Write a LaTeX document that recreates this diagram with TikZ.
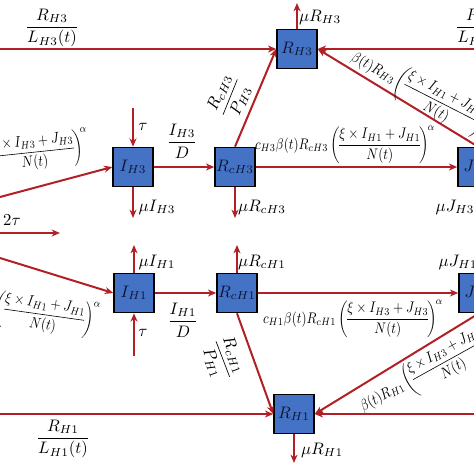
\documentclass[tikz,border=0pt]{standalone}
\usepackage{amsmath}
\usetikzlibrary{arrows.meta}
\definecolor{flowred}{HTML}{B21F24}
\definecolor{boxblue}{HTML}{4472C4}
\definecolor{boxtext}{HTML}{0B1533}
\newcommand{\shr}[1]{\scalebox{0.78}[0.92]{#1}}
\newcommand{\frc}[2]{\left(\!\dfrac{#1}{#2}\!\right)^{\!\alpha}}
\begin{document}
\begin{tikzpicture}[x=0.6pt,y=-0.6pt,
  comp/.style={draw=black, line width=0.9pt, fill=boxblue, text=boxtext,
    minimum width=24pt, minimum height=23.5pt, inner sep=0pt},
  flow/.style={draw=flowred, line width=1.2pt, -{Stealth[length=5pt,width=4.2pt]}},
  lab/.style={inner sep=0pt, text=black}]
\useasboundingbox (0,0) rectangle (474,474);
% compartments
\node[comp] (RH3)  at (297,49)  {$R_{H3}$};
\node[comp] (IH3)  at (133,167) {$I_{H3}$};
\node[comp] (RcH3) at (235,167) {$R_{cH3}$};
\node[comp] (JH3)  at (478,167) {$J_{H3}$};
\node[comp] (IH1)  at (134,293) {$I_{H1}$};
\node[comp] (RcH1) at (237,293) {$R_{cH1}$};
\node[comp] (JH1)  at (479,293) {$J_{H1}$};
\node[comp] (RH1)  at (294,414) {$R_{H1}$};
% free ends
\coordinate (tl) at (0,49);
\coordinate (tr) at (474,49);
\coordinate (muRH3) at (297,3);
\coordinate (tauA) at (133,108);
\coordinate (muIH3) at (133,218);
\coordinate (muRcH3) at (235,218);
\coordinate (muJH3) at (478,218);
\coordinate (ulA) at (0,197);
\coordinate (twA) at (0,233);
\coordinate (twB) at (60,233);
\coordinate (llA) at (0,258);
\coordinate (muIH1) at (134,245);
\coordinate (tauB) at (134,356);
\coordinate (muRcH1) at (237,245);
\coordinate (muJH1) at (479,245);
\coordinate (bl) at (0,414);
\coordinate (br) at (474,414);
\coordinate (muRH1) at (294,463);
% flows, upper half
\draw[flow] (tl) -- (RH3);
\draw[flow] (tr) -- (RH3);
\draw[flow] (RH3) -- (muRH3);
\draw[flow] (tauA) -- (IH3);
\draw[flow] (IH3) -- (muIH3);
\draw[flow] (IH3) -- (RcH3);
\draw[flow] (RcH3) -- (muRcH3);
\draw[flow] (RcH3) -- (JH3);
\draw[flow] (JH3) -- (muJH3);
\draw[flow] (RcH3.north) -- (RH3.west);
\draw[flow] (JH3.north) -- (RH3.east);
\draw[flow] (ulA) -- (IH3.west);
\draw[flow] (twA) -- (twB);
% flows, lower half
\draw[flow] (llA) -- (IH1.west);
\draw[flow] (IH1) -- (muIH1);
\draw[flow] (tauB) -- (IH1);
\draw[flow] (IH1) -- (RcH1);
\draw[flow] (RcH1) -- (muRcH1);
\draw[flow] (RcH1) -- (JH1);
\draw[flow] (JH1) -- (muJH1);
\draw[flow] (RcH1.south) -- (RH1.west);
\draw[flow] (JH1.south) -- (RH1.east);
\draw[flow] (bl) -- (RH1);
\draw[flow] (br) -- (RH1);
\draw[flow] (RH1) -- (muRH1);
% labels, upper half
\node[lab] (lRL3) at (52,28) {$\dfrac{R_{H3}}{L_{H3}(t)}$};
\node[lab, anchor=west] (lRL3r) at (455,28) {$\dfrac{R_{H3}}{L_{H3}(t)}$};
\node[lab] (lmuRH3) at (320,17) {$\mu R_{H3}$};
\node[lab] (ltauA) at (143,127) {$\tau$};
\node[lab] (lmuIH3) at (157,207) {$\mu I_{H3}$};
\node[lab] (lID3) at (182,141) {$\dfrac{I_{H3}}{D}$};
\node[lab] (lmuRcH3) at (262,207) {$\mu R_{cH3}$};
\node[lab] (lmuJH3) at (455,207) {$\mu J_{H3}$};
\node[lab] (lc3) at (345,145) {\shr{$c_{H3}\beta(t)R_{cH3}\frc{\xi\times I_{H1}+J_{H1}}{N(t)}$}};
\node[lab, rotate=68] (lRP3) at (230,97) {$\dfrac{R_{cH3}}{P_{H3}}$};
\node[lab, rotate=-27, anchor=west] (lb3) at (352,57) {\shr{$\beta(t)R_{H3}\frc{\xi\times I_{H1}+J_{H1}}{N(t)}$}};
\node[lab, rotate=6, anchor=east] (lul) at (89,146) {\shr{$\frc{\xi\times I_{H3}+J_{H3}}{N(t)}$}};
\node[lab] (l2tau) at (12,220) {$2\tau$};
% labels, lower half
\node[lab, rotate=-8, anchor=east] (lll) at (99,322) {\shr{$\frc{\xi\times I_{H1}+J_{H1}}{N(t)}$}};
\node[lab] (lmuIH1) at (157,262) {$\mu I_{H1}$};
\node[lab] (ltauB) at (143,333) {$\tau$};
\node[lab] (lID1) at (183,320) {$\dfrac{I_{H1}}{D}$};
\node[lab] (lmuRcH1) at (262,262) {$\mu R_{cH1}$};
\node[lab] (lmuJH1) at (458,262) {$\mu J_{H1}$};
\node[lab] (lc1) at (353,319) {\shr{$c_{H1}\beta(t)R_{cH1}\frc{\xi\times I_{H3}+J_{H3}}{N(t)}$}};
\node[lab, rotate=-69] (lRP1) at (223,359) {$\dfrac{R_{cH1}}{P_{H1}}$};
\node[lab, rotate=29, anchor=west] (lb1) at (361,408) {\shr{$\beta(t)R_{H1}\frc{\xi\times I_{H3}+J_{H3}}{N(t)}$}};
\node[lab] (lRL1) at (63,439) {$\dfrac{R_{H1}}{L_{H1}(t)}$};
\node[lab] (lmuRH1) at (322,450) {$\mu R_{H1}$};
\end{tikzpicture}
\end{document}
